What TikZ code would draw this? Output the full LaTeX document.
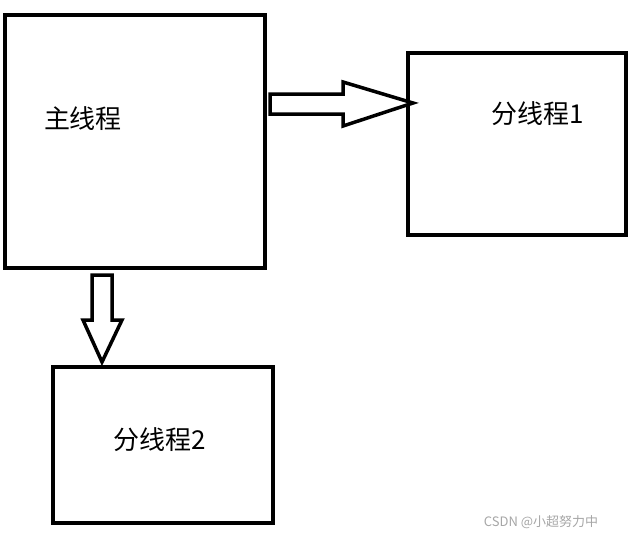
\documentclass[tikz,border=0pt]{standalone}
\usepackage{fontspec}
\newfontfamily\cjk{Noto Sans CJK SC}
\begin{document}
\begin{tikzpicture}[x=1pt,y=-1pt,
  boxst/.style={draw=black,line width=3.5pt},
  lbl/.style={font=\cjk\fontsize{26}{30}\selectfont},
  barrow/.style={draw=black,line width=3.5pt,line join=miter,fill=white}]
\useasboundingbox (0,0) rectangle (641,541);
\draw[boxst] (5,15) rectangle (265,268);
\draw[boxst] (408,53) rectangle (626,235);
\draw[boxst] (53,367) rectangle (273,523);
\node[lbl] (m) at (83,119) {主线程};
\node[lbl] (a) at (538,114) {分线程1};
\node[lbl] (b) at (160,440) {分线程2};
\draw[barrow] (270,94) -- (343,94) -- (343,82) -- (413,103) -- (343,126) -- (343,114) -- (270,114) -- cycle;
\draw[barrow] (92,275) -- (112,275) -- (112,320) -- (122,320) -- (102,362) -- (83,320) -- (92,320) -- cycle;
\node[font=\cjk\fontsize{13}{15}\selectfont,text=gray!70] (w) at (541,522) {CSDN @小超努力中};
\end{tikzpicture}
\end{document}
